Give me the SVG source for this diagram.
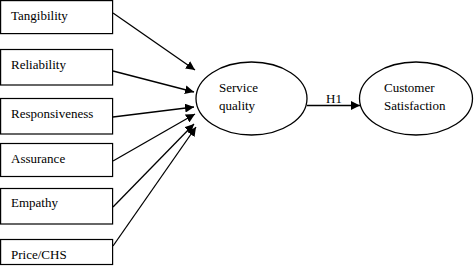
<svg xmlns="http://www.w3.org/2000/svg" width="474" height="266" viewBox="0 0 474 266">
<defs>
<style>
.box{fill:#fff;stroke:#000;stroke-width:1.2}
.ell{fill:#fff;stroke:#000;stroke-width:1.3}
.t{font-family:"Liberation Serif","Times New Roman",serif;font-size:13px;fill:#000}
.c{stroke:#000;stroke-width:1.3;fill:none;marker-end:url(#ah)}
</style>
<marker id="ah" viewBox="0 0 10 10" refX="10" refY="5" markerWidth="9" markerHeight="9" markerUnits="userSpaceOnUse" orient="auto">
<path d="M0,0 L10,5 L0,10 z" fill="#000"/>
</marker>
</defs>
<rect x="0" y="0" width="474" height="266" fill="#fff"/>
<g id="tangibility"><rect class="box" x="0.6" y="0.6" width="112" height="33"/><text class="t" x="11" y="20">Tangibility</text></g>
<g id="reliability"><rect class="box" x="0.6" y="49.5" width="112" height="35.5"/><text class="t" x="11" y="69">Reliability</text></g>
<g id="responsiveness"><rect class="box" x="0.6" y="98.5" width="112" height="35.5"/><text class="t" x="11" y="118">Responsiveness</text></g>
<g id="assurance"><rect class="box" x="0.6" y="143.5" width="112" height="33"/><text class="t" x="11" y="163">Assurance</text></g>
<g id="empathy"><rect class="box" x="0.6" y="188.5" width="112" height="35.5"/><text class="t" x="11" y="207">Empathy</text></g>
<g id="price"><rect class="box" x="0.6" y="239.5" width="112" height="25"/><text class="t" x="11" y="259">Price/CHS</text></g>
<g id="service-quality"><ellipse class="ell" cx="251.5" cy="98.5" rx="55.5" ry="36.5"/><text class="t" x="219" y="92">Service</text><text class="t" x="219" y="110">quality</text></g>
<g id="customer-satisfaction"><ellipse class="ell" cx="416" cy="98.5" rx="56.5" ry="36.5"/><text class="t" x="384" y="92">Customer</text><text class="t" x="384" y="110">Satisfaction</text></g>
<g id="connectors">
<line class="c" x1="113" y1="13" x2="195" y2="70"/>
<line class="c" x1="113" y1="71" x2="194" y2="92"/>
<line class="c" x1="113" y1="117" x2="194" y2="107"/>
<line class="c" x1="113" y1="161" x2="195" y2="114"/>
<line class="c" x1="113" y1="207" x2="194" y2="124"/>
<line class="c" x1="113" y1="246" x2="196" y2="127"/>
<line class="c" x1="307" y1="105.5" x2="360" y2="105.5"/>
<text class="t" x="326" y="103">H1</text>
</g>
</svg>
